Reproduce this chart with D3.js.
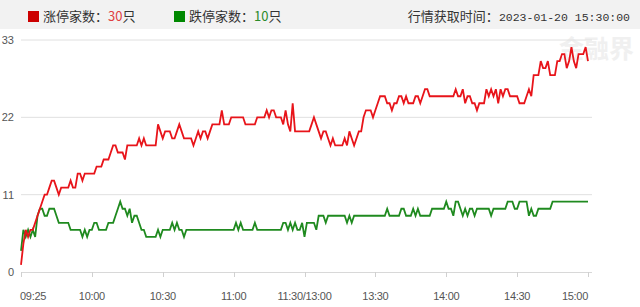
<!DOCTYPE html>
<html>
<head>
<meta charset="utf-8">
<script src="https://cdn.jsdelivr.net/npm/d3@7"></script>
<style>
  body { margin: 0; background: #fff; }
  #chart { width: 640px; height: 307px; }
</style>
</head>
<body>
<div id="chart"></div>
<script>
(function () {
  // minute-by-minute counts, 09:25 then 09:30-11:30 / 13:00-15:00
  const limitUp = [
    1, 4, 6, 5, 6, 6, 7, 8, 9, 10,
    11, 11, 12, 13, 13, 12, 11, 12, 12, 12,
    12, 13, 12, 12, 14, 14, 13, 14, 14, 14,
    14, 14, 15, 15, 15, 16, 16, 16, 17, 18,
    18, 17, 17, 17, 16, 18, 18, 18, 18, 18,
    19, 18, 19, 18, 18, 18, 18, 18, 21, 20,
    19, 20, 20, 20, 19, 19, 20, 21, 20, 19,
    19, 19, 19, 18, 19, 20, 19, 20, 20, 19,
    20, 21, 21, 21, 21, 23, 21, 21, 21, 22,
    22, 22, 22, 22, 22, 21, 21, 21, 21, 21,
    22, 22, 22, 22, 23, 22, 23, 23, 22, 22,
    22, 21, 23, 21, 20, 24, 20, 20, 20, 20,
    20, 20, 20, 21, 22, 21, 20, 19, 20, 20,
    19, 18, 19, 18, 18, 18, 18, 19, 18, 20,
    19, 18, 19, 20, 20, 22, 23, 23, 23, 22,
    23, 24, 25, 25, 25, 24, 24, 23, 24, 24,
    25, 25, 24, 25, 24, 24, 24, 25, 25, 24,
    25, 26, 26, 25, 25, 25, 25, 25, 25, 25,
    25, 25, 25, 25, 26, 25, 25, 26, 24, 25,
    25, 24, 24, 23, 24, 24, 24, 26, 25, 26,
    25, 26, 24, 26, 25, 26, 26, 25, 25, 25,
    25, 24, 24, 24, 25, 26, 25, 28, 28, 28,
    30, 29, 29, 30, 28, 28, 28, 30, 30, 31,
    31, 29, 30, 32, 30, 29, 31, 31, 31, 32,
    30
  ];
  const limitDown = [
    3, 6, 5, 6, 5, 6, 5, 8, 9, 9,
    8, 8, 9, 9, 9, 8, 7, 7, 7, 7,
    7, 6, 6, 6, 6, 6, 5, 6, 5, 6,
    6, 7, 7, 6, 6, 6, 6, 7, 7, 7,
    8, 9, 10, 9, 9, 8, 9, 7, 8, 8,
    7, 6, 6, 5, 5, 5, 5, 5, 6, 5,
    6, 6, 6, 6, 7, 6, 7, 6, 6, 5,
    6, 6, 6, 6, 6, 6, 6, 6, 6, 6,
    6, 6, 6, 6, 6, 6, 6, 6, 6, 6,
    6, 7, 6, 7, 6, 6, 6, 6, 6, 7,
    6, 6, 6, 6, 6, 6, 6, 6, 6, 6,
    6, 7, 7, 6, 7, 6, 7, 6, 6, 7,
    5, 7, 7, 7, 7, 6, 8, 8, 8, 7,
    8, 8, 8, 8, 8, 8, 8, 8, 7, 8,
    7, 8, 8, 8, 8, 8, 8, 8, 8, 8,
    8, 8, 8, 8, 8, 9, 8, 8, 8, 8,
    8, 9, 9, 8, 8, 8, 9, 8, 9, 8,
    8, 8, 8, 8, 9, 9, 9, 9, 9, 9,
    10, 9, 9, 8, 10, 10, 9, 8, 9, 8,
    9, 9, 8, 9, 9, 9, 9, 9, 9, 8,
    9, 9, 9, 9, 9, 9, 10, 10, 10, 9,
    9, 10, 10, 10, 10, 8, 9, 8, 8, 9,
    9, 9, 9, 9, 9, 10, 10, 10, 10, 10,
    10, 10, 10, 10, 10, 10, 10, 10, 10, 10,
    10
  ];
  const timeLabels = ["09:25", "10:00", "10:30", "11:00", "11:30/13:00", "13:30", "14:00", "14:30", "15:00"];
  const timeTickIndex = [0, 30, 60, 90, 120, 150, 180, 210, 240];
  const yTicks = [0, 11, 22, 33];
  const upCount = 30;
  const downCount = 10;
  const fetchTime = "2023-01-20 15:30:00";

  const width = 640;
  const height = 307;
  const cjk = "'Noto Sans CJK SC', 'Noto Sans', sans-serif";

  const svg = d3.select("#chart")
    .append("svg")
    .attr("width", width)
    .attr("height", height);

  const xPositionScale = d3.scaleLinear().domain([0, 240]).range([21, 588]);
  const yPositionScale = d3.scaleLinear().domain([0, 33]).range([272, 40]);

  // header band
  svg.append("rect")
    .attr("x", 0).attr("y", 0)
    .attr("width", width).attr("height", 29)
    .attr("fill", "#f2f2f2");

  // legend: limit up
  svg.append("rect")
    .attr("x", 28).attr("y", 11)
    .attr("width", 11).attr("height", 11)
    .attr("fill", "#cc0000");
  const upText = svg.append("text")
    .attr("x", 43).attr("y", 21)
    .attr("font-family", cjk)
    .attr("font-size", "13px")
    .attr("fill", "#333");
  upText.append("tspan").text("涨停家数：");
  upText.append("tspan").attr("fill", "#e04040").text(upCount);
  upText.append("tspan").text("只");

  // legend: limit down
  svg.append("rect")
    .attr("x", 174).attr("y", 11)
    .attr("width", 11).attr("height", 11)
    .attr("fill", "#008800");
  const downText = svg.append("text")
    .attr("x", 189).attr("y", 21)
    .attr("font-family", cjk)
    .attr("font-size", "13px")
    .attr("fill", "#333");
  downText.append("tspan").text("跌停家数：");
  downText.append("tspan").attr("fill", "#2a8a2a").text(downCount);
  downText.append("tspan").text("只");

  // fetch time, right side
  const timeText = svg.append("text")
    .attr("x", 630).attr("y", 21)
    .attr("text-anchor", "end")
    .attr("fill", "#333");
  timeText.append("tspan")
    .attr("font-family", cjk)
    .attr("font-size", "13px")
    .text("行情获取时间：");
  timeText.append("tspan")
    .attr("font-family", "'Liberation Mono', 'DejaVu Sans Mono', monospace")
    .attr("font-size", "11.5px")
    .text(fetchTime);

  // faint watermark
  svg.append("text")
    .attr("x", 634).attr("y", 58)
    .attr("text-anchor", "end")
    .attr("font-family", cjk)
    .attr("font-weight", "bold")
    .attr("font-size", "25px")
    .attr("fill", "#f0f0f0")
    .text("金融界");

  // gridlines
  svg.selectAll(".grid")
    .data(yTicks.filter(d => d > 0))
    .enter().append("line")
    .attr("class", "grid")
    .attr("x1", 21).attr("x2", 592)
    .attr("y1", d => yPositionScale(d))
    .attr("y2", d => yPositionScale(d))
    .attr("stroke", "#e0e0e0")
    .attr("stroke-width", 1);

  // y labels
  svg.selectAll(".ylabel")
    .data(yTicks)
    .enter().append("text")
    .attr("class", "ylabel")
    .attr("x", 14)
    .attr("y", d => yPositionScale(d) + 4)
    .attr("text-anchor", "end")
    .attr("font-family", "'Liberation Sans', Arial, sans-serif")
    .attr("font-size", "11px")
    .attr("fill", "#555")
    .text(d => d);

  // x axis
  svg.append("line")
    .attr("x1", 21).attr("x2", 592)
    .attr("y1", yPositionScale(0) + 0.5)
    .attr("y2", yPositionScale(0) + 0.5)
    .attr("stroke", "#d8d8d8");

  svg.selectAll(".xtick")
    .data(timeTickIndex)
    .enter().append("line")
    .attr("class", "xtick")
    .attr("x1", d => Math.round(xPositionScale(d)) + 0.5)
    .attr("x2", d => Math.round(xPositionScale(d)) + 0.5)
    .attr("y1", yPositionScale(0))
    .attr("y2", yPositionScale(0) + 5)
    .attr("stroke", "#d0d0d0");

  svg.selectAll(".xlabel")
    .data(timeTickIndex)
    .enter().append("text")
    .attr("class", "xlabel")
    .attr("x", (d, i) => xPositionScale(d) + (i === 0 ? -1 : 0))
    .attr("y", 300)
    .attr("text-anchor", (d, i) => i === 0 ? "start" : (i === timeTickIndex.length - 1 ? "end" : "middle"))
    .attr("font-family", "'Liberation Sans', Arial, sans-serif")
    .attr("font-size", "11px")
    .attr("letter-spacing", "-0.3px")
    .attr("fill", "#555")
    .text((d, i) => timeLabels[i]);

  const line = d3.line()
    .x((d, i) => xPositionScale(i))
    .y(d => yPositionScale(d));

  svg.append("path")
    .datum(limitDown)
    .attr("d", line)
    .attr("fill", "none")
    .attr("stroke", "#1f8a1f")
    .attr("stroke-width", 1.8)
    .attr("stroke-linejoin", "miter");

  svg.append("path")
    .datum(limitUp)
    .attr("d", line)
    .attr("fill", "none")
    .attr("stroke", "#e8141a")
    .attr("stroke-width", 1.8)
    .attr("stroke-linejoin", "miter");
})();
</script>
</body>
</html>
